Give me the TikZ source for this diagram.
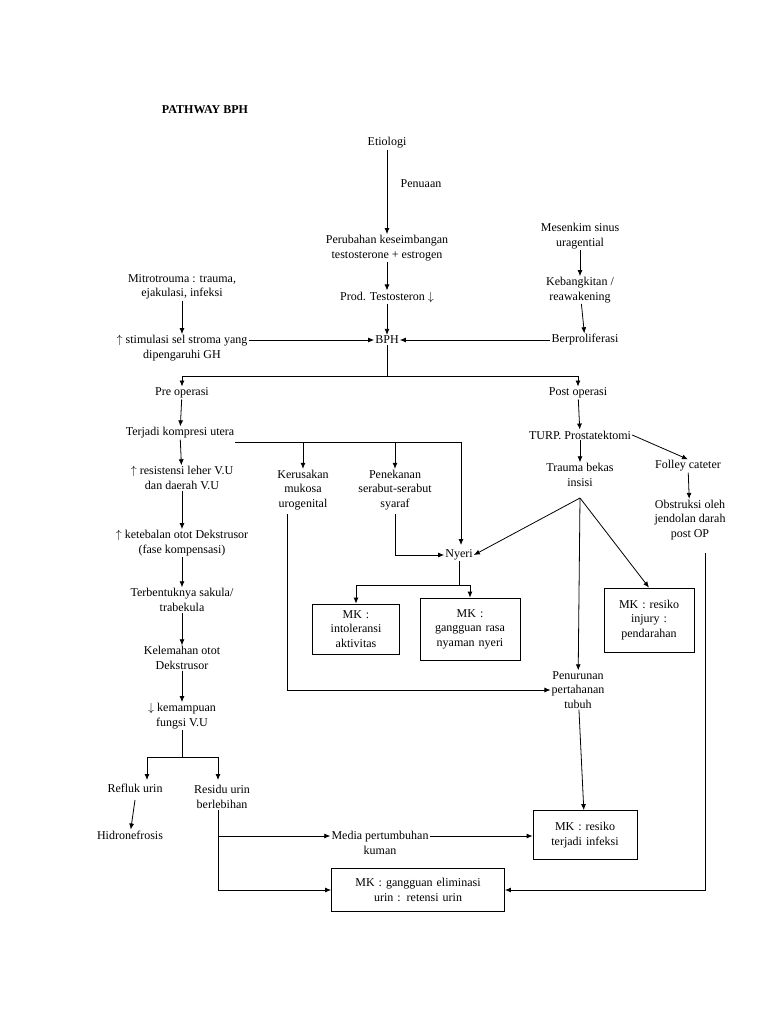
\documentclass[tikz,border=0pt]{standalone}
\usepackage{fontspec}
\setmainfont{Liberation Serif}
\usetikzlibrary{arrows.meta}
\begin{document}
\begin{tikzpicture}[x=1pt,y=-1pt,
  txt/.style={align=center,inner sep=1pt,font=\fontsize{12}{14.5}\selectfont},
  box/.style={txt,draw,thick,minimum height=#1},
  arr/.style={draw,thick,-{Latex[length=6pt,width=5pt]}},
  ln/.style={draw,thick}]
\useasboundingbox (0,0) rectangle (768,1024);
\node[txt,font=\bfseries\fontsize{12}{14}\selectfont] (title) at (205,110) {PATHWAY BPH};
\node[txt] (etio) at (387,143) {Etiologi};
\node[txt] (penuaan) at (421,184) {Penuaan};
\node[txt] (peru) at (387,248) {Perubahan keseimbangan\\testosterone + estrogen};
\node[txt] (prod) at (387,297) {Prod. Testosteron $\downarrow$};
\node[txt] (bph) at (387,340) {BPH};
\node[txt] (mes) at (580,236) {Mesenkim sinus\\uragential};
\node[txt] (keb) at (580,290) {Kebangkitan /\\reawakening};
\node[txt] (berp) at (585,340) {Berproliferasi};
\node[txt] (mitro) at (182,287) {Mitrotrouma : trauma,\\ejakulasi, infeksi};
\node[txt] (stim) at (182,348) {$\uparrow$ stimulasi sel stroma yang\\dipengaruhi GH};
\node[txt] (pre) at (182,393) {Pre operasi};
\node[txt] (post) at (578,393) {Post operasi};
\node[txt] (komp) at (180,433) {Terjadi kompresi utera};
\node[txt] (keru) at (303,490) {Kerusakan\\mukosa\\urogenital};
\node[txt] (pene) at (395,490) {Penekanan\\serabut-serabut\\syaraf};
\node[txt] (nyeri) at (459,555) {Nyeri};
\node[txt] (resi) at (182,478) {$\uparrow$ resistensi leher V.U\\dan daerah V.U};
\node[txt] (kete) at (182,543) {$\uparrow$ ketebalan otot Dekstrusor\\(fase kompensasi)};
\node[txt] (terb) at (182,600) {Terbentuknya sakula/\\trabekula};
\node[txt] (kele) at (182,658) {Kelemahan otot\\Dekstrusor};
\node[txt] (kema) at (182,716) {$\downarrow$ kemampuan\\fungsi V.U};
\node[txt] (refl) at (135,788) {Refluk urin};
\node[txt] (resd) at (222,797) {Residu urin\\berlebihan};
\node[txt] (hidr) at (130,835) {Hidronefrosis};
\node[txt] (media) at (380,843) {Media pertumbuhan\\kuman};
\node[box=50pt,text width=85pt] (intol) at (356,629) {MK :\\intoleransi\\aktivitas};
\node[box=62pt,text width=98pt] (ggn) at (470,629) {MK :\\gangguan rasa\\nyaman nyeri};
\node[txt] (turp) at (580,435) {TURP. Prostatektomi};
\node[txt] (trau) at (580,475) {Trauma bekas\\insisi};
\node[txt] (fol) at (688,466) {Folley cateter};
\node[txt] (obs) at (690,520) {Obstruksi oleh\\jendolan darah\\post OP};
\node[box=64pt,text width=88pt] (inj) at (649,620) {MK : resiko\\injury :\\pendarahan};
\node[txt] (penu) at (578,690) {Penurunan\\pertahanan\\tubuh};
\node[box=49pt,text width=102pt] (inf) at (585,835) {MK : resiko\\terjadi infeksi};
\node[box=43pt,text width=171pt] (elim) at (418,890) {MK : gangguan eliminasi\\urin : retensi urin};

\path[arr] (etio) -- (peru);
\path[arr] (peru) -- (prod);
\path[arr] (prod) -- (bph);
\path[arr] (mes) -- (keb);
\path[arr] (keb) -- (berp);
\path[arr] (berp) -- (bph);
\path[arr] (mitro) -- (stim);
\path[arr] (stim.east |- bph) -- (bph);
\path[ln] (bph) -- (387,376) coordinate (s1);
\path[arr] (s1) -| (pre);
\path[arr] (s1) -| (post);
\path[arr] (pre) -- (komp);
\path[ln] (komp.east) ++(0,9) coordinate (k0) -- (461,442) coordinate (k1);
\path[arr] (k1) -- (461,545);
\path[arr] (303,442) -- (keru);
\path[arr] (395,442) -- (pene);
\path[arr] (pene.south) ++(0,3) |- (nyeri);
\path[arr] (komp) -- (resi);
\path[arr] (resi) -- (kete);
\path[arr] (kete) -- (terb);
\path[arr] (terb) -- (kele);
\path[arr] (kele) -- (kema);
\path[ln] (kema) -- (182,757) coordinate (s2);
\path[arr] (s2) -| (147,780);
\path[arr] (s2) -| (218,780);
\path[arr] (135,800) -- (hidr);
\path[ln] (nyeri) -- (459,585) coordinate (s3);
\path[arr] (s3) -| (intol);
\path[arr] (s3) -| (ggn);
\path[arr] (keru.south) ++(-16,3) |- (penu.west);
\path[arr] (post) -- (turp);
\path[arr] (turp) -- (trau);
\path[arr] (turp.east) -- (fol.north);
\path[arr] (fol) -- (obs);
\coordinate (t0) at (580,498);
\path[arr] (t0) -- (nyeri.east);
\path[arr] (t0) -- (inj.north);
\path[arr] (t0) -- (penu);
\path[arr] (penu) -- (inf);
\path[ln] (218,810) -- (218,890) coordinate (r1);
\path[arr] (218,836) -- (media.west |- 0,836);
\path[arr] (media.east |- 0,836) -- (inf.west |- 0,836);
\path[arr] (r1) -- (elim);
\path[arr] (705,553) |- (elim);
\end{tikzpicture}
\end{document}
